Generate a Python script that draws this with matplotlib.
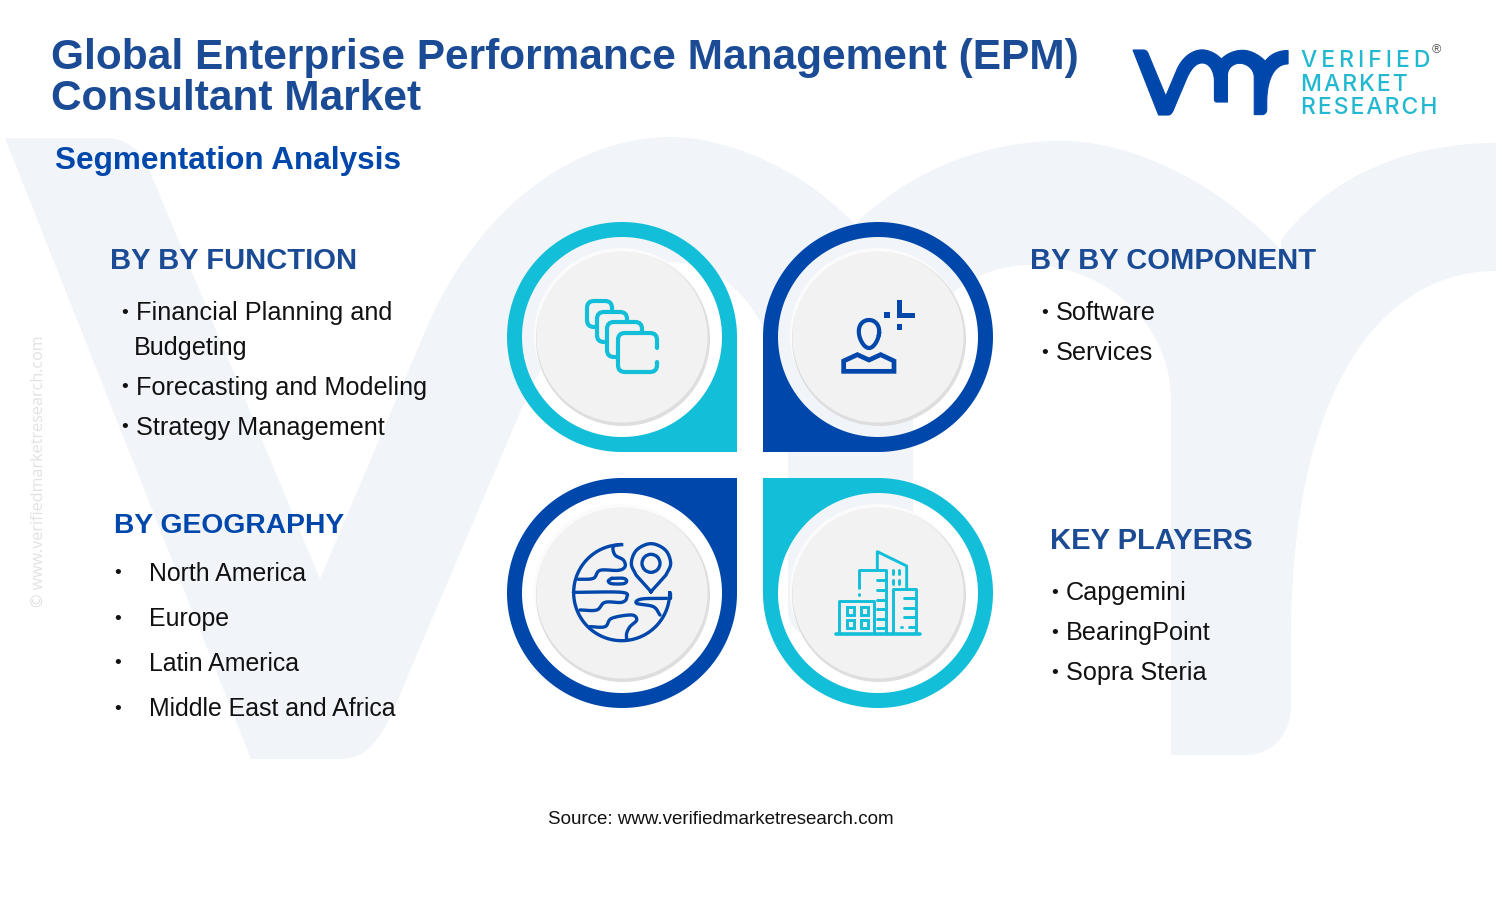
import numpy as np
from matplotlib import pyplot as plt
from matplotlib.patches import Circle, FancyBboxPatch, PathPatch, Polygon, Rectangle
from matplotlib.path import Path

title_lines = ["Global Enterprise Performance Management (EPM)", "Consultant Market"]
subtitle = "Segmentation Analysis"
function_head = "BY BY FUNCTION"
function_items = ["Financial Planning and", "Budgeting", "Forecasting and Modeling", "Strategy Management"]
component_head = "BY BY COMPONENT"
component_items = ["Software", "Services"]
geo_head = "BY GEOGRAPHY"
geo_items = ["North America", "Europe", "Latin America", "Middle East and Africa"]
players_head = "KEY PLAYERS"
players_items = ["Capgemini", "BearingPoint", "Sopra Steria"]
logo_words = ["VERIFIED", "MARKET", "RESEARCH"]
source_text = "Source: www.verifiedmarketresearch.com"
side_text = "© www.verifiedmarketresearch.com"

navy = "#1a4b94"
blue = "#0047ab"
cyan = "#13bfd8"
pale = "#f1f4f9"
logo_cyan = "#22b8d0"
sans = "Liberation Sans"

fig = plt.figure(figsize=(15, 9.11), dpi=100)
ax = fig.add_axes([0, 0, 1, 1])
ax.set_xlim(0, 1500)
ax.set_ylim(911, 0)
ax.set_axis_off()


def curve(pts, n=14):
    # catmull-rom through the given points
    p = np.array(pts, dtype=float)
    p = np.vstack([2 * p[0] - p[1], p, 2 * p[-1] - p[-2]])
    out = []
    t = np.linspace(0, 1, n, endpoint=False)[:, None]
    for i in range(1, len(p) - 2):
        a, b, c, d = p[i - 1], p[i], p[i + 1], p[i + 2]
        out.append(0.5 * (2 * b + (c - a) * t + (2 * a - 5 * b + 4 * c - d) * t ** 2
                          + (3 * b - a - 3 * c + d) * t ** 3))
    out.append(p[-2][None, :])
    return np.vstack(out)


def bez(p0, c1, c2, p1, n=40):
    t = np.linspace(0, 1, n)[:, None]
    p0, c1, c2, p1 = [np.array(q, dtype=float) for q in (p0, c1, c2, p1)]
    return (1 - t) ** 3 * p0 + 3 * (1 - t) ** 2 * t * c1 + 3 * (1 - t) * t ** 2 * c2 + t ** 3 * p1


# the vmr mark, as drawn in the big background version
v_arm = np.vstack([
    [(5, 138), (105, 138)],
    bez((105, 138), (130, 138), (145, 155), (153, 179)),
    [(320, 579), (430, 320)],
    bez((430, 320), (490, 190), (590, 137), (670, 137)),
    bez((670, 137), (760, 137), (913, 220), (913, 370)),
    [(913, 635), (810, 635)],
    bez((810, 635), (797, 635), (788, 625), (788, 610)),
    [(788, 440)],
    bez((788, 440), (788, 340), (740, 262), (670, 262)),
    bez((670, 262), (620, 262), (570, 300), (521, 410)),
    [(406, 680)],
    bez((406, 680), (385, 735), (370, 759), (340, 759)),
    [(251, 759)],
])
m_arch = np.vstack([
    bez((853, 226), (910, 170), (985, 141), (1061, 141)),
    bez((1061, 141), (1140, 141), (1225, 190), (1281, 250)),
    bez((1281, 240), (1330, 175), (1410, 143), (1496, 143)),
    [(1496, 271)],
    bez((1496, 271), (1380, 271), (1291, 390), (1291, 640)),
    [(1291, 705)],
    bez((1291, 705), (1291, 735), (1272, 755), (1245, 755)),
    [(1171, 755), (1171, 400)],
    bez((1171, 400), (1171, 320), (1100, 265), (1030, 265)),
    bez((1030, 265), (970, 265), (913, 310), (913, 380)),
])

for shape in [v_arm, m_arch]:
    ax.add_patch(Polygon(shape, closed=True, fc=pale, ec="none", zorder=1))
    # same mark, small, for the logo
    small = np.column_stack([1133 + (shape[:, 0] - 5) * 0.104, 50 + (shape[:, 1] - 138) * 0.1047])
    ax.add_patch(Polygon(small, closed=True, fc=blue, ec=blue, lw=0.8, zorder=3))


def teardrop(cx, cy, color, corner):
    R, r = 115, 100
    sx, sy = corner
    # arc covers everything but the quadrant holding the corner
    th = np.linspace(0, 1.5 * np.pi, 180)
    if sx * sy > 0:
        ang = np.pi / 2 * (1 if sy > 0 else 3) + th
    else:
        ang = np.pi / 2 * (0 if sx > 0 else 2) + th
    # ang runs in screen space (y pointing down)
    outer = np.column_stack([cx + R * np.cos(ang), cy + R * np.sin(ang)])
    outer = np.vstack([outer, [cx + sx * R, cy + sy * R], outer[0]])
    t2 = np.linspace(2 * np.pi, 0, 181)
    inner = np.column_stack([cx + r * np.cos(t2), cy + r * np.sin(t2)])
    verts = np.vstack([outer, inner])
    codes = [Path.MOVETO] + [Path.LINETO] * (len(outer) - 1) + [Path.MOVETO] + [Path.LINETO] * (len(inner) - 1)
    ax.add_patch(PathPatch(Path(verts, codes), fc=color, ec="none", zorder=4))
    ax.add_patch(Circle((cx - 1, cy - 2), 87, fc="#fbfbfb", ec="none", zorder=4))
    ax.add_patch(Circle((cx + 1, cy + 2), 87, fc="#dedede", ec="none", zorder=4))
    ax.add_patch(Circle((cx, cy), 85.5, fc="#f2f2f2", ec="none", zorder=4))


teardrop(622, 337, cyan, (1, 1))
teardrop(878, 337, blue, (-1, 1))
teardrop(622, 593, blue, (1, -1))
teardrop(878, 593, cyan, (-1, -1))


def zpts(pts, ox, oy):
    return [(ox + x / 3, oy + y / 3) for x, y in pts]


def stroke(pts, color, lw, smooth=False):
    xy = curve(pts) if smooth else np.array(pts)
    ax.plot(xy[:, 0], xy[:, 1], color=color, lw=lw, solid_capstyle="round",
            solid_joinstyle="round", zorder=6)


# stacked cards icon
icon_lw = 3.0
for x0, x1, y0, y1 in [(587, 612, 301, 327), (597, 627, 312, 342), (607, 642, 322, 357), (618, 657, 333, 372)]:
    ax.add_patch(FancyBboxPatch((x0 + 7, y0 + 7), x1 - x0 - 14, y1 - y0 - 14, boxstyle="round,pad=7,rounding_size=7",
                                fc="#f2f2f2", ec=cyan, lw=icon_lw, zorder=5))
ax.add_patch(Rectangle((652, 348), 9, 14, fc="#f2f2f2", ec="none", zorder=5))
stroke([(657, 346), (657, 348)], cyan, icon_lw)
stroke([(657, 362), (657, 364)], cyan, icon_lw)

# person icon
ox, oy = 750, 210
t = np.linspace(0, 2 * np.pi, 80)
ax.plot(ox + 357 / 3 + 10 * np.cos(t) * (1 - 0.2 * np.sin(t)), oy + 372 / 3 + 14 * np.sin(t),
        color=blue, lw=3.0, zorder=6)
body = zpts([(281, 484), (281, 453), (322, 434), (357, 450), (392, 434), (432, 453), (432, 484)], ox, oy)
ax.add_patch(Polygon(body, closed=True, fc="none", ec=blue, lw=3.4, joinstyle="miter", zorder=6))
for x0, x1, y0, y1 in [(440, 457, 270, 325), (440, 495, 308, 325), (403, 420, 307, 325), (440, 457, 343, 361)]:
    ax.add_patch(Rectangle((ox + x0 / 3, oy + y0 / 3), (x1 - x0) / 3, (y1 - y0) / 3, fc=blue, ec="none", zorder=6))

# globe and pin icon
ox, oy = 490, 465
th = np.linspace(-np.pi / 2, -2 * np.pi, 120)
cx, cy = ox + 395 / 3, oy + 383 / 3
ax.plot(cx + 48 * np.cos(th), cy + 48 * np.sin(th), color=blue, lw=2.4, zorder=6)
globe_lines = [
    [(393, 238), (370, 245), (375, 270), (400, 285), (405, 305), (385, 316), (330, 316), (310, 340), (265, 343)],
    [(250, 382), (395, 382), (410, 398), (395, 412), (345, 412), (320, 435), (270, 435)],
    [(300, 485), (345, 485), (365, 460), (425, 450), (440, 465), (420, 485), (410, 505), (410, 525)],
    [(530, 400), (455, 402), (440, 415), (490, 425), (510, 450)],
]
for line in globe_lines:
    stroke(zpts(line, ox, oy), blue, 2.4, smooth=True)
stroke(zpts([(365, 340), (400, 340), (410, 348), (400, 356), (365, 356), (355, 348), (365, 340)], ox, oy), blue, 2.4, smooth=True)
stroke(zpts([(540, 385), (540, 400)], ox, oy), blue, 2.4)
pin = np.vstack([
    [(ox + 483 / 3, oy + 380 / 3)],
    curve(zpts([(438, 330), (424, 295), (440, 255), (483, 236), (526, 255), (542, 295), (528, 330)], ox, oy)),
    [(ox + 483 / 3, oy + 380 / 3)],
])
ax.plot(pin[:, 0], pin[:, 1], color=blue, lw=2.4, zorder=6)
ax.add_patch(Circle((ox + 483 / 3, oy + 295 / 3), 9, fc="none", ec=blue, lw=2.4, zorder=6))

# buildings icon
ox, oy = 750, 465
lw_b = 2.1
stroke(zpts([(258, 506), (510, 506)], ox, oy), cyan, 2.6)
stroke(zpts([(268, 505), (268, 408), (372, 408), (372, 505)], ox, oy), cyan, lw_b)
for x0, y0 in [(290, 427), (332, 427), (290, 466), (332, 466)]:
    ax.add_patch(Rectangle((ox + x0 / 3, oy + y0 / 3), 7.5, 7.5, fc="none", ec=cyan, lw=lw_b, zorder=6))
stroke(zpts([(328, 370), (328, 316), (408, 316), (408, 505)], ox, oy), cyan, lw_b)
stroke(zpts([(328, 388), (328, 389)], ox, oy), cyan, lw_b)
stroke(zpts([(382, 316), (382, 260), (470, 303), (470, 372)], ox, oy), cyan, lw_b)
stroke(zpts([(430, 505), (430, 372), (498, 372), (498, 505)], ox, oy), cyan, lw_b)
for y in [345, 375, 405, 432, 462, 490]:
    stroke(zpts([(382, y), (408, y)], ox, oy), cyan, lw_b)
for x0, y in [(462, 400), (462, 428), (462, 456), (476, 485)]:
    stroke(zpts([(x0, y), (498, y)], ox, oy), cyan, lw_b)
stroke(zpts([(454, 485), (455, 485)], ox, oy), cyan, lw_b)
for x in [428, 447]:
    for y in [315, 345]:
        stroke(zpts([(x, y), (x, y + 13)], ox, oy), cyan, lw_b)

# header text
ax.text(51, 58, title_lines[0], family=sans, weight="bold", fontsize=30.55, color=navy, va="center", zorder=8)
ax.text(51, 99, title_lines[1], family=sans, weight="bold", fontsize=30.55, color=navy, va="center", zorder=8)
ax.text(55, 161, subtitle, family=sans, weight="bold", fontsize=22.65, color=blue, va="center", zorder=8)

# logo wording, VERIFIED is spaced out wider than the other two
for word, y, gap in zip(logo_words, [61, 85, 108], ["\u200a\u200a", "\u200a", "\u200a"]):
    ax.text(1301, y, gap.join(word), family=["Inter", "DejaVu Sans"], weight="medium", fontsize=16.5,
            color=logo_cyan, va="center", zorder=8)
ax.text(1436, 50, "®", family=sans, fontsize=9, color="#555555", ha="center", va="center", zorder=8)


def head_text(x, y, s, color=navy, size=21):
    ax.text(x, y, s, family=sans, weight="bold", fontsize=size, color=color, va="center", zorder=8)


def item_text(x, y, s, size=18.2):
    ax.text(x, y + 2, s, family=sans, fontsize=size, color="#111111", va="center", zorder=8)


def bullet_item(x, y, s):
    item_text(x + 1, y, "•", 14)
    item_text(x + 16, y, s)


head_text(110, 261, function_head)
bullet_item(120, 311, function_items[0])
item_text(134, 346, function_items[1])
bullet_item(120, 386, function_items[2])
bullet_item(120, 426, function_items[3])

head_text(1030, 261, component_head)
for item, y in zip(component_items, [311, 351]):
    bullet_item(1040, y, item)

head_text(114, 526, geo_head, blue, 20.3)
for item, y in zip(geo_items, [572, 617, 662, 707]):
    item_text(114, y, "•", 14)
    item_text(149, y, item, 17.9)

head_text(1050, 541, players_head)
for item, y in zip(players_items, [591, 631, 671]):
    bullet_item(1050, y, item)

ax.text(548, 820, source_text, family=sans, fontsize=13.5, color="#111111", va="center", zorder=8)
ax.text(39, 471, side_text, family="Open Sans", fontsize=11.6, color="#e2e2e2", rotation=90,
        ha="center", va="center", zorder=2)

fig.savefig("out.png", dpi=100)
